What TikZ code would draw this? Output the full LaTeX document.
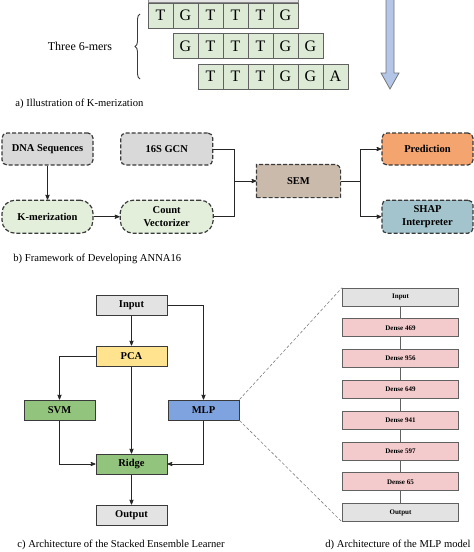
\documentclass[tikz,border=0pt]{standalone}
\usepackage{fontspec}
\setmainfont{Liberation Serif}
\usepackage{xcolor}
\usepackage{tikz}
\usetikzlibrary{arrows, positioning, calc, backgrounds, decorations.pathreplacing}

\definecolor{basegreen}{HTML}{DDEBD6}
\definecolor{seqgrey}{HTML}{D9D9D9}
\definecolor{mintgreen}{HTML}{E3EFDB}
\definecolor{semtaupe}{HTML}{C9BAAB}
\definecolor{predorange}{HTML}{F4A46E}
\definecolor{shapteal}{HTML}{A3C4CC}
\definecolor{boxgrey}{HTML}{E3E3E3}
\definecolor{pcayellow}{HTML}{FFE38F}
\definecolor{learngreen}{HTML}{93C47D}
\definecolor{mlpblue}{HTML}{7EA3DE}
\definecolor{densepink}{HTML}{F4CBCD}
\definecolor{arrowblue}{HTML}{B4C6E7}
\definecolor{edgegrey}{HTML}{3A3A3A}

\begin{document}
\begin{tikzpicture}[x=1pt, y=-1pt, >=stealth', thick]
  \tikzstyle{base} = [rectangle, draw=edgegrey!80, line width=0.8pt, fill=basegreen, minimum size=25pt, inner sep=0pt, font=\fontsize{16}{16}\selectfont]
  \tikzstyle{flowbox} = [rectangle, draw=edgegrey, line width=1.2pt, dash pattern=on 4pt off 2pt, rounded corners=5pt, minimum width=91pt, minimum height=32pt, inner sep=0pt, align=center, font=\fontsize{10.5}{12.5}\selectfont\bfseries]
  \tikzstyle{pill} = [flowbox, rounded corners=13pt, minimum height=33pt, fill=mintgreen]
  \tikzstyle{stackbox} = [rectangle, draw=edgegrey, line width=1pt, minimum width=71pt, minimum height=20pt, inner sep=0pt, font=\fontsize{10.5}{12}\selectfont\bfseries]
  \tikzstyle{layer} = [rectangle, draw=edgegrey!80, line width=0.8pt, minimum width=116pt, minimum height=18pt, inner sep=0pt, font=\fontsize{7}{8}\selectfont\bfseries]
  \tikzstyle{link} = [->, draw=black!85, line width=0.8pt]
  \tikzstyle{caption} = [anchor=west, inner sep=0pt, font=\fontsize{10.6}{12}\selectfont]

  \useasboundingbox (0,0) rectangle (474,552);

  % a) k-merization
  \filldraw[fill=seqgrey!70, draw=edgegrey!60, line width=0.6pt] (148,-3) rectangle (298,2);
  \foreach \l [count=\i] in {T,G,T,T,T,G}
    \node[base] (RowA\i) at (135.5+25*\i, 15.5) {\l};
  \foreach \l [count=\i] in {G,T,T,T,G,G}
    \node[base] (RowB\i) at (160.5+25*\i, 46) {\l};
  \foreach \l [count=\i] in {T,T,T,G,G,A}
    \node[base] (RowC\i) at (185.5+25*\i, 76.5) {\l};
  \draw[decorate, decoration={brace, amplitude=5pt}, line width=0.9pt, edgegrey] (140,79) -- (140,14);
  \node[font=\fontsize{12}{14}\selectfont] (Mers) at (80,46) {Three 6-mers};
  \filldraw[fill=arrowblue, draw=edgegrey!70, line width=0.8pt] (386,-2) -- (386,73) -- (381,73) -- (390,89) -- (399,73) -- (394,73) -- (394,-2);
  \node[caption] (CapA) at (15,104) {a) Illustration of K-merization};

  % b) framework
  \node[flowbox, fill=seqgrey] (DNA) at (47.5,149) {DNA Sequences};
  \node[pill, below=34pt of DNA] (Kmer) {K-merization};
  \node[pill, minimum width=93pt, right=26pt of Kmer] (Counter) {Count\\Vectorizer};
  \node[flowbox, fill=seqgrey, minimum width=92pt, above=34pt of Counter] (GCN) {16S GCN};
  \node[flowbox, draw=none, minimum width=83pt] (SEM) at (298.5,181) {SEM};
  \node[flowbox, fill=predorange] (Pred) at (427.5,149) {Prediction};
  \node[flowbox, fill=shapteal, minimum height=33pt, below=34pt of Pred] (SHAP) {SHAP\\Interpreter};
  \begin{scope}[on background layer]
    \filldraw[fill=semtaupe, draw=edgegrey, line width=1.2pt, dash pattern=on 4pt off 2pt]
      (SEM.south west) -- (SEM.north west) -- ([xshift=-6pt]SEM.north east)
      to[out=0, in=90] ([yshift=-6pt]SEM.north east) -- (SEM.south east) -- cycle;
  \end{scope}
  \coordinate (JoinIn) at (234,181);
  \coordinate (JoinOut) at (360,181);
  \draw[link] (DNA) -- (Kmer);
  \draw[link] (Kmer) -- (Counter);
  \draw[link, -] (GCN.east) -| (JoinIn);
  \draw[link, -] (Counter.east) -| (JoinIn);
  \draw[link] (JoinIn) -- (SEM.west);
  \draw[link, -] (SEM.east) -- (JoinOut);
  \draw[link] (JoinOut) |- (Pred.west);
  \draw[link] (JoinOut) |- (SHAP.west);
  \node[caption] (CapB) at (13,259) {b) Framework of Developing ANNA16};

  % c) stacked ensemble
  \node[stackbox, fill=boxgrey] (In) at (131.5,305) {Input};
  \node[stackbox, fill=pcayellow, below=30pt of In] (PCA) {PCA};
  \node[stackbox, fill=learngreen, below left=33pt and 0pt of PCA] (SVM) {SVM};
  \node[stackbox, fill=mlpblue, below right=33pt and 0pt of PCA] (MLP) {MLP};
  \node[stackbox, fill=learngreen, below=87pt of PCA] (Ridge) {Ridge};
  \node[stackbox, fill=boxgrey, below=30pt of Ridge] (Out) {Output};
  \draw[link] (In) -- (PCA);
  \draw[link] (In.east) -| (MLP.north);
  \draw[link] (PCA.west) -| (SVM.north);
  \draw[link] (PCA) -- (Ridge);
  \draw[link] (SVM.south) |- (Ridge.west);
  \draw[link] (MLP.south) |- (Ridge.east);
  \draw[link] (Ridge) -- (Out);
  \node[caption] (CapC) at (17,545) {c) Architecture of the Stacked Ensemble Learner};

  % d) mlp layers
  \node[layer, fill=boxgrey] (L0) at (400.5,297) {Input};
  \foreach \w [count=\i, remember=\i as \j (initially 0)] in {469,956,649,941,597,65} {
    \node[layer, fill=densepink, below=12pt of L\j] (L\i) {Dense \w};
    \draw[edgegrey!80, line width=0.8pt] (L\j) -- (L\i);
  }
  \node[layer, fill=boxgrey, below=12pt of L6] (LOut) {Output};
  \draw[edgegrey!80, line width=0.8pt] (L6) -- (LOut);
  \draw[gray, line width=0.6pt, dash pattern=on 3pt off 2pt] (MLP.north east) -- (L0.north west);
  \draw[gray, line width=0.6pt, dash pattern=on 3pt off 2pt] (MLP.south east) -- (LOut.south west);
  \node[caption] (CapD) at (325,545) {d) Architecture of the MLP model};
\end{tikzpicture}
\end{document}
